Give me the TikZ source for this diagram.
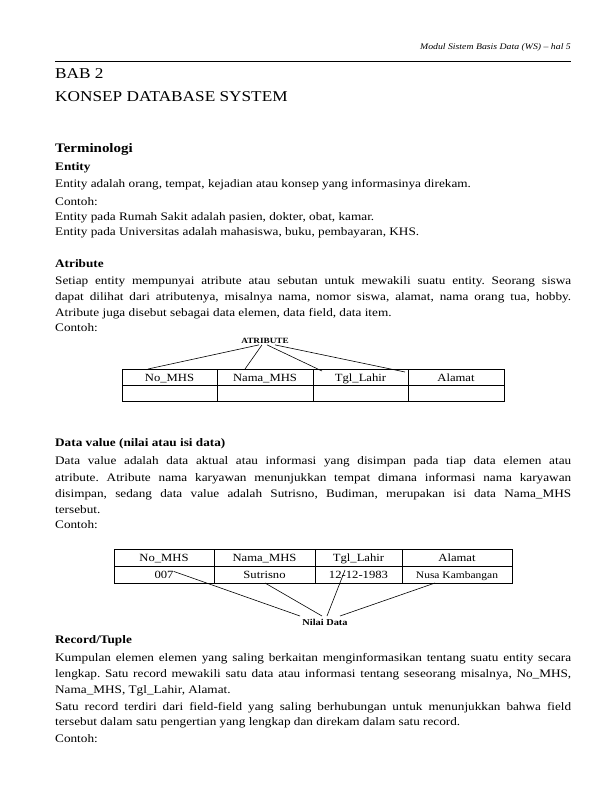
\documentclass[tikz,border=0pt]{standalone}
\usepackage{fontspec}
\setmainfont{Liberation Serif}[FakeStretch=1.15]
\newcommand{\jl}[1]{\makebox[516pt][s]{#1}}
\begin{document}
\frenchspacing
\begin{tikzpicture}[x=1pt,y=-1pt,
  txt/.style={anchor=base west,inner sep=0pt,font=\fontsize{11.5}{13}\selectfont\frenchspacing},
  bld/.style={txt,font=\fontsize{11.5}{13}\selectfont\bfseries},
  cell/.style={anchor=base,inner sep=0pt,font=\fontsize{11}{13}\selectfont},
  lbl/.style={inner sep=1pt,font=\fontsize{8}{9}\selectfont\bfseries},
  ln/.style={line width=0.6pt}]
\useasboundingbox (0,0) rectangle (612,792);
\node[anchor=base east,inner sep=0pt,font=\fontsize{8.5}{10}\selectfont\itshape] (hd) at (571,49) {Modul Sistem Basis Data (WS) -- hal 5};
\draw[line width=0.5pt] (55,61) coordinate (r1) -- (571,61) coordinate (r2);
\node[txt,font=\fontsize{15}{17}\selectfont] (b1) at (55,78) {BAB 2};
\node[txt,font=\fontsize{15}{17}\selectfont] (b2) at (55,101) {KONSEP DATABASE SYSTEM};
\node[txt,font=\fontsize{13}{15}\selectfont\bfseries] (t0) at (55,152) {Terminologi};
\node[bld] (e0) at (55,170) {Entity};
\node[txt] (e1) at (55,187) {Entity adalah orang, tempat, kejadian atau konsep yang informasinya direkam.};
\node[txt] (e2) at (55,205) {Contoh:};
\node[txt] (e3) at (55,220) {Entity pada Rumah Sakit adalah pasien, dokter, obat, kamar.};
\node[txt] (e4) at (55,235) {Entity pada Universitas adalah mahasiswa, buku, pembayaran, KHS.};
\node[bld] (a0) at (55,267) {Atribute};
\node[txt] (a1) at (55,284) {\jl{Setiap entity mempunyai atribute atau sebutan untuk mewakili suatu entity. Seorang siswa}};
\node[txt] (a2) at (55,300) {\jl{dapat dilihat dari atributenya, misalnya nama, nomor siswa, alamat, nama orang tua, hobby.}};
\node[txt] (a3) at (55,316) {Atribute juga disebut sebagai data elemen, data field, data item.};
\node[txt] (a4) at (55,331) {Contoh:};
% table 1
\draw[ln] (122,369) rectangle (504,401);
\draw[ln] (122,385) -- (504,385);
\foreach \x in {217,313,408} \draw[ln] (\x,369) -- (\x,401);
\node[cell] (c11) at (169.5,381) {No\_MHS};
\node[cell] (c12) at (265,381) {Nama\_MHS};
\node[cell] (c13) at (360.5,381) {Tgl\_Lahir};
\node[cell] (c14) at (456,381) {Alamat};
\node[lbl] (atr) at (265,341) {ATRIBUTE};
\coordinate (p1) at (148,369);
\coordinate (p2) at (245,369);
\coordinate (p3) at (322,371);
\coordinate (p4) at (405,372);
\draw[ln] (atr.south) ++(-6,0) -- (p1);
\draw[ln] (atr.south) ++(-3,0) -- (p2);
\draw[ln] (atr.south) ++(2,0) -- (p3);
\draw[ln] (atr.south) ++(10,0) -- (p4);
\node[bld] (d0) at (55,446) {Data value (nilai atau isi data)};
\node[txt] (d1) at (55,464) {\jl{Data value adalah data aktual atau informasi yang disimpan pada tiap data elemen atau}};
\node[txt] (d2) at (55,481) {\jl{atribute. Atribute nama karyawan menunjukkan tempat dimana informasi nama karyawan}};
\node[txt] (d3) at (55,497) {\jl{disimpan, sedang data value adalah Sutrisno, Budiman, merupakan isi data Nama\_MHS}};
\node[txt] (d4) at (55,513) {tersebut.};
\node[txt] (d5) at (55,528) {Contoh:};
% table 2
\draw[ln] (114,549) rectangle (512,583);
\draw[ln] (114,566) -- (512,566);
\foreach \x in {214,315,402} \draw[ln] (\x,549) -- (\x,583);
\node[cell] (h1) at (164,561.5) {No\_MHS};
\node[cell] (h2) at (264.5,561.5) {Nama\_MHS};
\node[cell] (h3) at (358.5,561.5) {Tgl\_Lahir};
\node[cell] (h4) at (457,561.5) {Alamat};
\node[cell] (v1) at (164,578.5) {007};
\node[cell] (v2) at (264.5,578.5) {Sutrisno};
\node[cell] (v3) at (358.5,578.5) {12-12-1983};
\node[cell,font=\fontsize{10}{12}\selectfont] (v4) at (457,578.5) {Nusa Kambangan};
\node[lbl,font=\fontsize{9}{10}\selectfont\bfseries] (nd) at (325,622) {Nilai Data};
\draw[ln] (v1.east) ++(0,-3.5) -- (300,616);
\draw[ln] (265,583) -- (322,616);
\draw[ln] (345,570) -- (327,616);
\draw[ln] (435,583) -- (340,616);
\node[bld] (r0) at (55,643) {Record/Tuple};
\node[txt] (r1t) at (55,661) {\jl{Kumpulan elemen elemen yang saling berkaitan menginformasikan tentang suatu entity secara}};
\node[txt] (r2t) at (55,677) {\jl{lengkap. Satu record mewakili satu data atau informasi tentang seseorang misalnya, No\_MHS,}};
\node[txt] (r3t) at (55,693) {Nama\_MHS, Tgl\_Lahir, Alamat.};
\node[txt] (r4t) at (55,710) {\jl{Satu record terdiri dari field-field yang saling berhubungan untuk menunjukkan bahwa field}};
\node[txt] (r5t) at (55,725) {tersebut dalam satu pengertian yang lengkap dan direkam dalam satu record.};
\node[txt] (r6t) at (55,742) {Contoh:};
\end{tikzpicture}
\end{document}
